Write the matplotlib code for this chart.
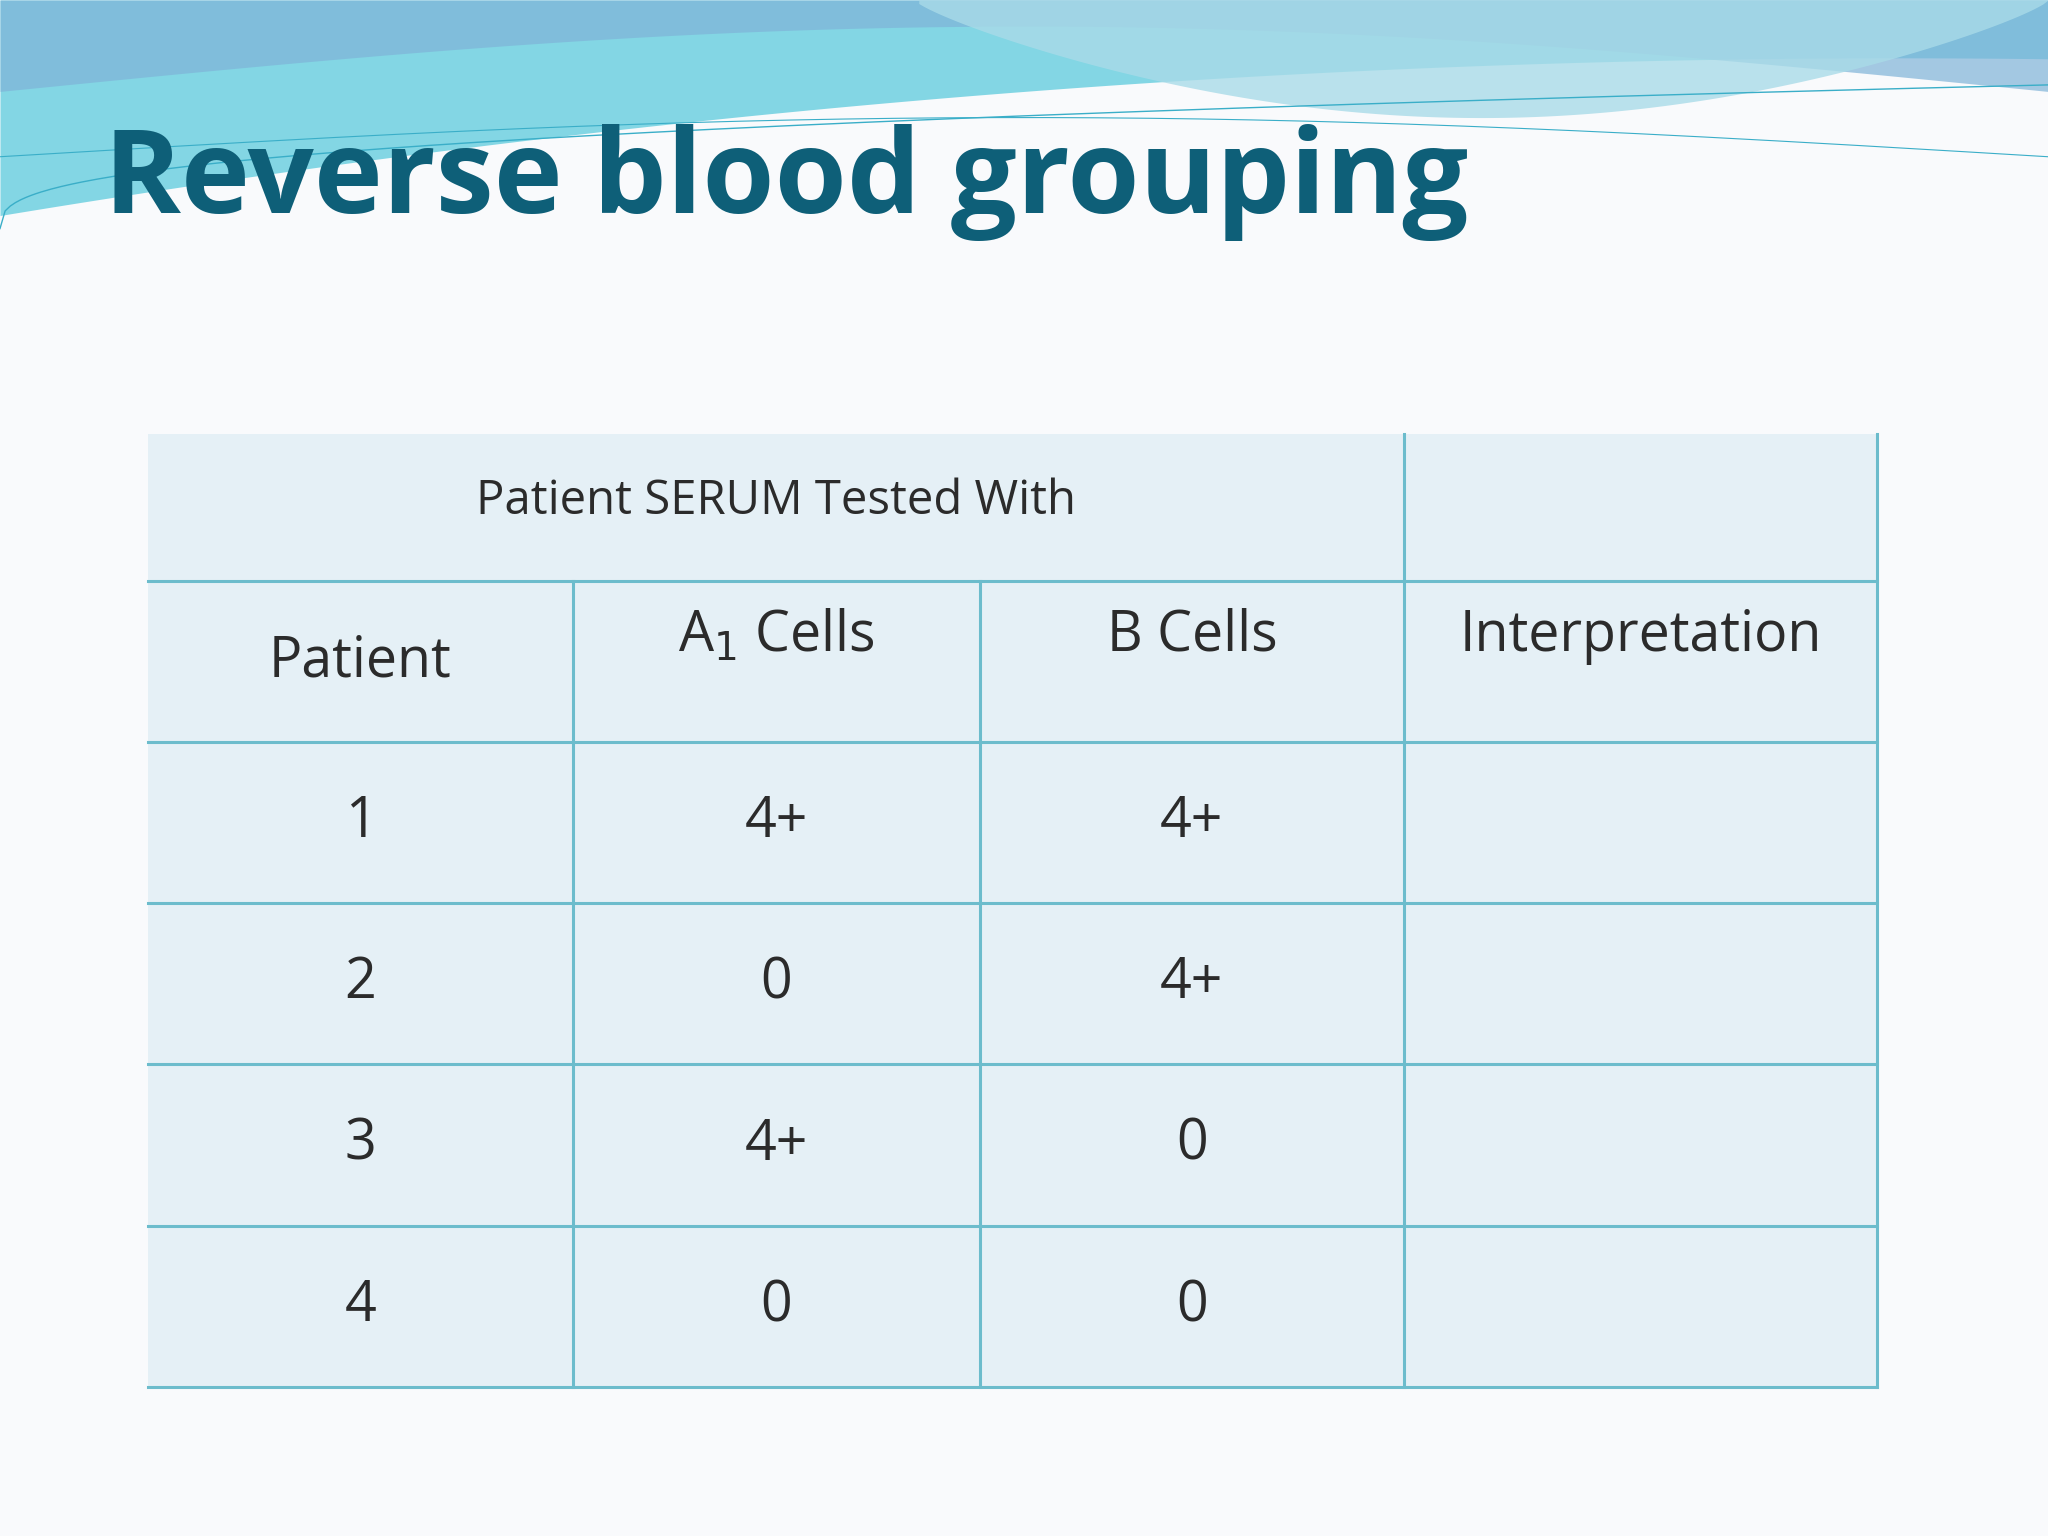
import numpy as np
import matplotlib.pyplot as plt
from matplotlib.patches import Rectangle

title = "Reverse blood grouping"
header_top = "Patient SERUM Tested With"
columns = ["Patient", "A$_1$ Cells", "B Cells", "Interpretation"]
patients = ["1", "2", "3", "4"]
a1_cells = ["4+", "0", "4+", "0"]
b_cells = ["4+", "4+", "0", "0"]
interpretation = ["", "", "", ""]

W, H = 1568, 1176
fig = plt.figure(figsize=(20.48, 15.36), dpi=100)
ax = fig.add_axes([0, 0, 1, 1])
ax.set_xlim(0, W)
ax.set_ylim(H, 0)
ax.axis("off")
fig.patch.set_facecolor("#f9fafc")

# top wave decoration
xs = np.linspace(0, W, 400)
t = xs / W
ax.fill_between(xs, 0, np.clip(165 - 260 * t + 140 * t ** 2, 0, None), color="#6fd0e0", alpha=0.85, lw=0)
ax.fill_between(xs, 0, np.clip(70 - 50 * np.sin(t * np.pi), 0, None), color="#7fb3d8", alpha=0.7, lw=0)
m = xs > 700
ax.fill_between(xs[m], 0, 100 * np.sin((xs[m] - 700) / (W - 700) * np.pi) ** 0.8 * 0.9,
                color="#a9dbe8", alpha=0.8, lw=0)
ax.plot(xs, 175 - 110 * t ** 0.35, color="#3aaec8", lw=1)
ax.plot(xs, 120 - 30 * np.sin(t * np.pi), color="#3aaec8", lw=0.8)

ax.text(80, 140, title, fontsize=84, fontweight="bold", color="#0e5f78",
        family="Open Sans", va="center", ha="left")

# table
cx = [113, 439, 750, 1075, 1437]
ry = [332, 445, 568, 691, 815, 939, 1062]
line_c = "#6cbccc"
ax.add_patch(Rectangle((cx[0], ry[0]), cx[-1] - cx[0], ry[-1] - ry[0], color="#e5f0f6", lw=0))
for y in ry[1:]:
    ax.plot([cx[0], cx[-1]], [y, y], color=line_c, lw=2.2)
for x in cx[1:3]:
    ax.plot([x, x], [ry[1], ry[-1]], color=line_c, lw=2.2)
for x in cx[3:]:
    ax.plot([x, x], [ry[0], ry[-1]], color=line_c, lw=2.2)

tc = "#2b2b2b"
ax.text((cx[0] + cx[3]) / 2, 384, header_top, fontsize=34, color=tc, ha="center", va="center",
        family="Open Sans")
ax.text((cx[0] + cx[1]) / 2, 507, columns[0], fontsize=40, color=tc, ha="center", va="center", family="Open Sans")
for i, lab in enumerate(columns[1:], start=1):
    ax.text((cx[i] + cx[i + 1]) / 2, 487, lab, fontsize=40, color=tc, ha="center", va="center",
            family="Open Sans")
for r in range(len(patients)):
    yc = (ry[r + 2] + ry[r + 3]) / 2
    for c, val in enumerate([patients[r], a1_cells[r], b_cells[r], interpretation[r]]):
        ax.text((cx[c] + cx[c + 1]) / 2, yc, val, fontsize=40, color=tc, ha="center", va="center",
                family="Open Sans")

fig.savefig("out.png", dpi=100)
